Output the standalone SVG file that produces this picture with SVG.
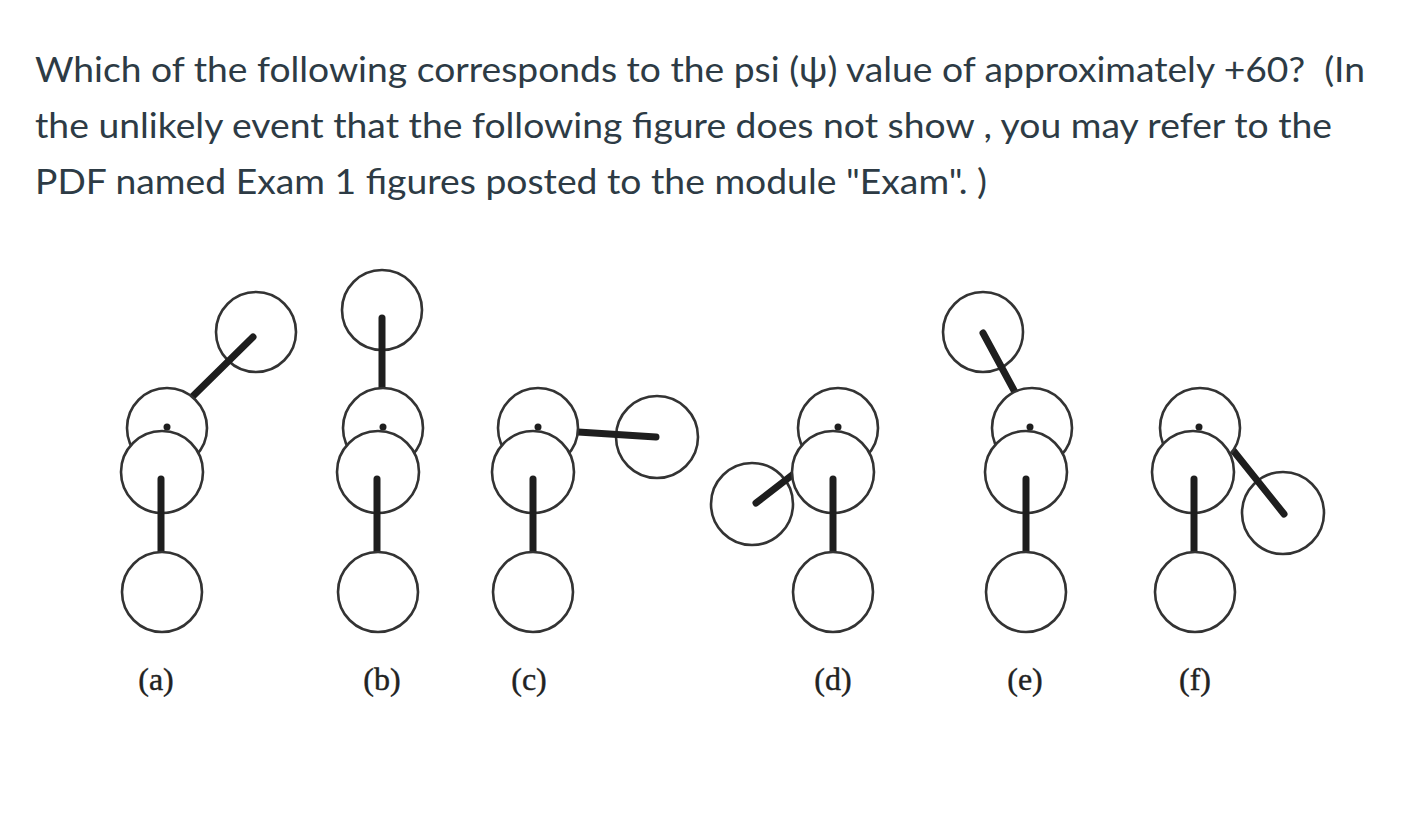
<svg xmlns="http://www.w3.org/2000/svg" width="1410" height="820" viewBox="0 0 1410 820">
<style>
.q{font-family:Lato,"Open Sans","Liberation Sans",sans-serif;font-size:34px;fill:#2d3b45}
.lab{font-family:"Liberation Serif",serif;font-size:32px;fill:#222;stroke:#222;stroke-width:0.4}
circle{fill:#fff;stroke:#333;stroke-width:2.6}
.b{stroke:#1e1e1e;stroke-width:7;stroke-linecap:round;fill:none}
.d{fill:#1e1e1e;stroke:none}
</style>
<rect width="1410" height="820" fill="#fff"/>
<text class="q" x="35" y="82" textLength="1330" lengthAdjust="spacingAndGlyphs" xml:space="preserve">Which of the following corresponds to the psi (ψ) value of approximately +60?  (In</text>
<text class="q" x="35" y="138" textLength="1297" lengthAdjust="spacingAndGlyphs">the unlikely event that the following figure does not show , you may refer to the</text>
<text class="q" x="35" y="194" textLength="952" lengthAdjust="spacingAndGlyphs">PDF named Exam 1 figures posted to the module "Exam". )</text>

<g id="a">
<circle cx="256" cy="332" r="40"/>
<line class="b" x1="190" y1="399" x2="253" y2="337"/>
<circle cx="167" cy="428" r="40"/>
<circle class="d" cx="167" cy="427" r="3.5"/>
<circle cx="162" cy="472" r="41"/>
<line class="b" x1="161" y1="479" x2="161" y2="553"/>
<circle cx="162" cy="592" r="40"/>
<text class="lab" x="156" y="690" text-anchor="middle">(a)</text>
</g>
<g id="b">
<circle cx="382" cy="310" r="40"/>
<line class="b" x1="382" y1="318" x2="382" y2="390"/>
<circle cx="383" cy="428" r="40"/>
<circle class="d" cx="383" cy="427" r="3.5"/>
<circle cx="378" cy="472" r="41"/>
<line class="b" x1="377" y1="479" x2="377" y2="553"/>
<circle cx="378" cy="592" r="40"/>
<text class="lab" x="382" y="690" text-anchor="middle">(b)</text>
</g>
<g id="c">
<circle cx="657" cy="437" r="41"/>
<line class="b" x1="578" y1="432" x2="656" y2="437"/>
<circle cx="538" cy="428" r="40"/>
<circle class="d" cx="538" cy="427" r="3.5"/>
<circle cx="533" cy="472" r="41"/>
<line class="b" x1="533" y1="479" x2="533" y2="553"/>
<circle cx="533" cy="592" r="40"/>
<text class="lab" x="529" y="690" text-anchor="middle">(c)</text>
</g>
<g id="d">
<circle cx="752" cy="504" r="41"/>
<line class="b" x1="756" y1="503" x2="800" y2="469"/>
<circle cx="838" cy="428" r="40"/>
<circle class="d" cx="838" cy="427" r="3.5"/>
<circle cx="833" cy="472" r="41"/>
<line class="b" x1="833" y1="479" x2="833" y2="553"/>
<circle cx="833" cy="592" r="40"/>
<text class="lab" x="833" y="690" text-anchor="middle">(d)</text>
</g>
<g id="e">
<circle cx="983" cy="332" r="40"/>
<line class="b" x1="983" y1="333" x2="1016" y2="394"/>
<circle cx="1032" cy="428" r="40"/>
<circle class="d" cx="1030" cy="427" r="3.5"/>
<circle cx="1026" cy="472" r="41"/>
<line class="b" x1="1026" y1="479" x2="1026" y2="553"/>
<circle cx="1026" cy="592" r="40"/>
<text class="lab" x="1025" y="690" text-anchor="middle">(e)</text>
</g>
<g id="f">
<circle cx="1283" cy="513" r="41"/>
<line class="b" x1="1232" y1="449" x2="1284" y2="514"/>
<circle cx="1200" cy="428" r="40"/>
<circle class="d" cx="1199" cy="427" r="3.5"/>
<circle cx="1193" cy="472" r="41"/>
<line class="b" x1="1194" y1="479" x2="1194" y2="553"/>
<circle cx="1195" cy="592" r="40"/>
<text class="lab" x="1195" y="690" text-anchor="middle">(f)</text>
</g>
</svg>
